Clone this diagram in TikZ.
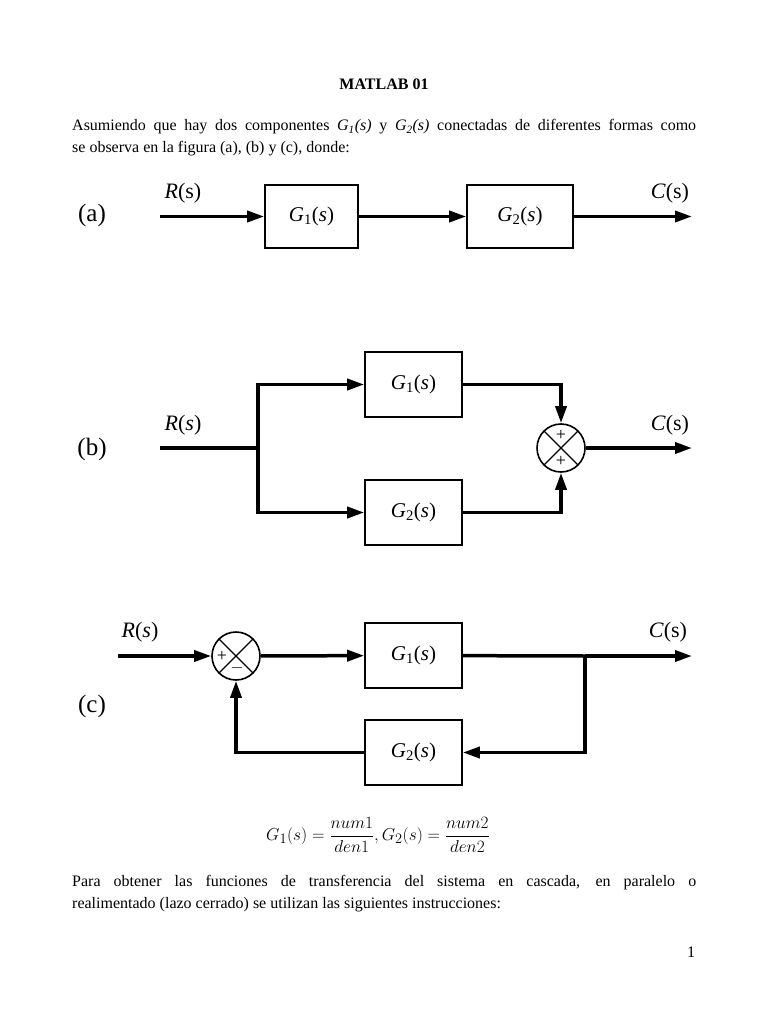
\documentclass[tikz,border=0pt]{standalone}
\usepackage{amsmath}
\usepackage{fontspec}
\setmainfont{Liberation Serif}
\usetikzlibrary{arrows.meta}
\newcommand{\blkg}[1]{\textit{G}\textsubscript{#1}(\textit{s})}
\begin{document}
\begin{tikzpicture}[x=1pt,y=-1pt,
  sig/.style={line width=3.5pt,-{Triangle[length=17pt,width=11pt]}},
  wire/.style={line width=3.5pt},
  blk/.style={draw,line width=1.6pt,inner sep=0pt,font=\fontsize{21}{21}\selectfont},
  sum/.style={draw,circle,line width=1.6pt,minimum size=48pt,inner sep=0pt,
    path picture={\draw[line width=1.2pt] (path picture bounding box.north west)--(path picture bounding box.south east)
      (path picture bounding box.north east)--(path picture bounding box.south west);}},
  lab/.style={font=\fontsize{22}{22}\selectfont},
  tag/.style={font=\fontsize{25}{25}\selectfont},
  txt/.style={font=\fontsize{16}{22}\selectfont,inner sep=0pt}]
\useasboundingbox (0,0) rectangle (768,1024);
\node[txt,font=\fontsize{16}{22}\selectfont\bfseries] (title) at (384,84) {MATLAB 01};
\node[txt,anchor=west,text width=624pt,align=justify] (intro) at (72,138)
  {Asumiendo que hay dos componentes \textit{G\textsubscript{1}(s)} y \textit{G\textsubscript{2}(s)} conectadas de diferentes formas como\linebreak se observa en la figura (a), (b) y (c), donde:};
% (a)
\node[tag] (ta) at (92,215) {(a)};
\node[blk,minimum width=93pt,minimum height=63pt] (a1) at (311.5,216.5) {\blkg{1}};
\node[blk,minimum width=106pt,minimum height=63pt] (a2) at (520,216.5) {\blkg{2}};
\coordinate (ain) at (160,216.5);
\coordinate (aout) at (692,216.5);
\node[lab] (ar) at (183,193) {\textit{R}(s)};
\node[lab] (ac) at (670,193) {\textit{C}(s)};
\draw[sig] (ain) -- (a1);
\draw[sig] (a1) -- (a2);
\draw[sig] (a2) -- (aout);
% (b)
\node[tag] (tb) at (92,449) {(b)};
\node[blk,minimum width=97pt,minimum height=65pt] (b1) at (413.5,384.5) {\blkg{1}};
\node[blk,minimum width=97pt,minimum height=65pt] (b2) at (413.5,512.5) {\blkg{2}};
\node[sum] (bs) at (561,448) {};
\node[font=\fontsize{18}{18}\selectfont] (bp1) at (561,435) {+};
\node[font=\fontsize{18}{18}\selectfont] (bp2) at (561,461) {+};
\coordinate (bin) at (160,448);
\coordinate (bj) at (258,448);
\coordinate (bout) at (692,448);
\node[lab] (br) at (183,425) {\textit{R}(\textit{s})};
\node[lab] (bc) at (670,425) {\textit{C}(s)};
\draw[wire] (bin) -- (bj);
\draw[sig] (bj) |- (b1);
\draw[sig] (bj) |- (b2);
\draw[sig] (b1) -| (bs);
\draw[sig] (b2) -| (bs);
\draw[sig] (bs) -- (bout);
% (c)
\node[tag] (tc) at (92,706) {(c)};
\node[sum] (cs) at (236,656) {};
\node[font=\fontsize{18}{18}\selectfont] (cp) at (222,656) {+};
\node[font=\fontsize{18}{18}\selectfont] (cm) at (237,668) {$-$};
\node[blk,minimum width=97pt,minimum height=65pt] (c1) at (413.5,655.5) {\blkg{1}};
\node[blk,minimum width=97pt,minimum height=65pt] (c2) at (413.5,752.5) {\blkg{2}};
\coordinate (cin) at (118,656);
\coordinate (cj) at (585,656);
\coordinate (cout) at (692,656);
\node[lab] (cr) at (140,632) {\textit{R}(\textit{s})};
\node[lab] (cc) at (668,632) {\textit{C}(s)};
\draw[sig] (cin) -- (cs);
\draw[sig] (cs) -- (c1);
\draw[wire] (c1) -- (cj);
\draw[sig] (cj) -- (cout);
\draw[sig] (cj) |- (c2);
\draw[sig] (c2) -| (cs);
% formula
\node[txt,font=\fontsize{19}{19}\selectfont] (eq) at (378,835)
  {$G_1(s)=\dfrac{num1}{den1},G_2(s)=\dfrac{num2}{den2}$};
\node[txt,anchor=west,text width=624pt,align=justify] (para) at (72,894)
  {Para obtener las funciones de transferencia del sistema en cascada, en paralelo o\linebreak realimentado (lazo cerrado) se utilizan las siguientes instrucciones:};
\node[txt] (pg) at (691,952) {1};
\end{tikzpicture}
\end{document}
